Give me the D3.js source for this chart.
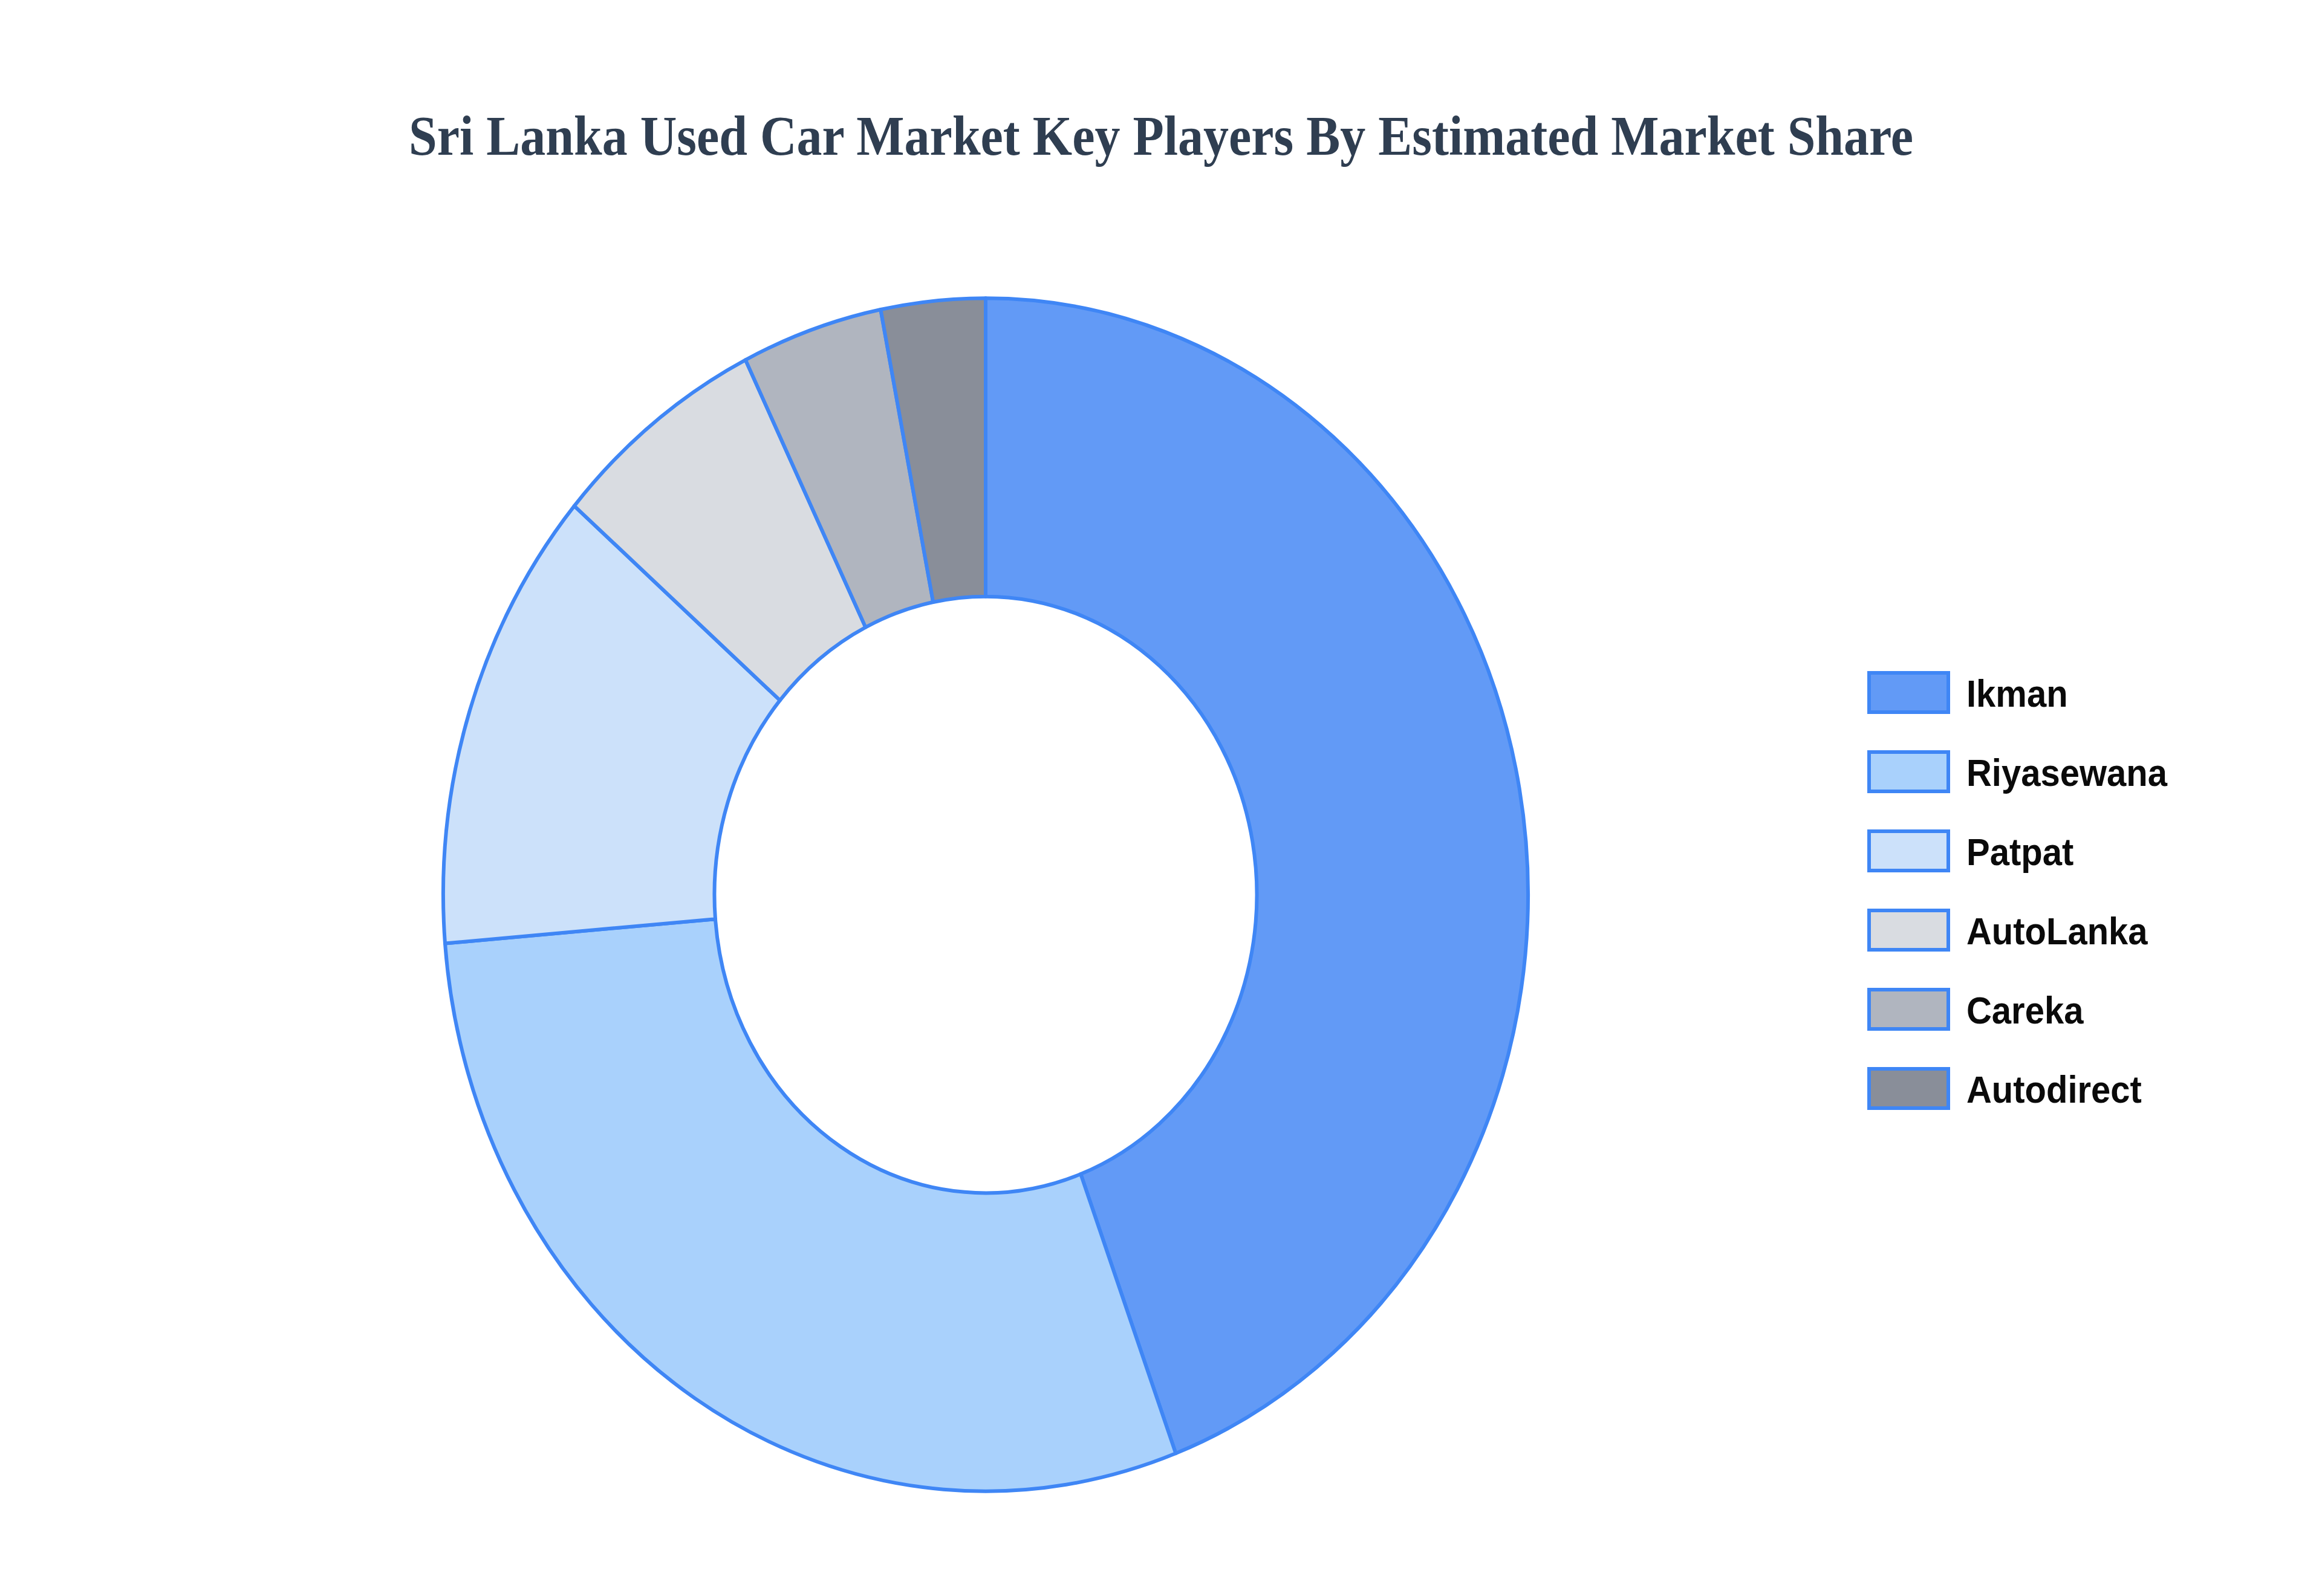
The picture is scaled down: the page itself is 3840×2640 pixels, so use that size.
<!DOCTYPE html>
<html>
<head>
<meta charset="utf-8">
<script src="https://cdn.jsdelivr.net/npm/d3@7"></script>
<style>
  body { margin: 0; background: #fff; }
</style>
</head>
<body>
<script>
	// 数据
	var players = ['Ikman', 'Riyasewana', 'Patpat', 'AutoLanka', 'Careka', 'Autodirect']
	var shares = [44.3, 29.4, 12.6, 6.4, 4.2, 3.1]
	var colors = ['#629af6', '#a9d1fc', '#cce1fa', '#d9dce1', '#b0b5bf', '#898e99']
	var titleText = 'Sri Lanka Used Car Market Key Players By Estimated Market Share'

	var width = 3840, height = 2640;
	var strokeColor = '#3f86f5';
	var stretch = 1.1; // 原图纵向拉伸

	var svg = d3.select('body').append('svg')
		.attr('width', width)
		.attr('height', height)

	// 标题
	svg.append('text')
		.attr('transform', `translate(${width / 2},256) scale(1,${stretch})`)
		.attr('text-anchor', 'middle')
		.style('font-family', '"Liberation Serif", "Times New Roman", serif')
		.style('font-weight', 'bold')
		.style('font-size', '84px')
		.style('fill', '#2f3e51')
		.text(titleText)

	// 环形图
	var cx = 1630, cy = 1480, rx = 897, ry = rx * stretch;
	var data = players.map((p, i) => ({ name: p, value: shares[i], color: colors[i] }))

	var pie = d3.pie().sort(null).value(d => d.value)
	var arc = d3.arc().innerRadius(rx * 0.5).outerRadius(rx)

	var g = svg.append('g')
		.attr('transform', `translate(${cx},${cy}) scale(1,${ry / rx})`)

	g.selectAll('path')
		.data(pie(data))
		.enter()
		.append('path')
		.attr('d', arc)
		.attr('fill', d => d.data.color)
		.attr('stroke', strokeColor)
		.attr('stroke-width', 6)
		.attr('stroke-linejoin', 'round')
		.attr('vector-effect', 'non-scaling-stroke')

	// 图例
	var legend = svg.selectAll('.legend')
		.data(data)
		.enter()
		.append('g')
		.attr('class', 'legend')
		.attr('transform', (d, i) => `translate(3091,${1113 + i * 131})`)

	legend.append('rect')
		.attr('width', 131)
		.attr('height', 65)
		.attr('fill', d => d.color)
		.attr('stroke', strokeColor)
		.attr('stroke-width', 6)

	legend.append('text')
		.attr('transform', `translate(161,33) scale(1,${stretch})`)
		.attr('dy', '0.36em')
		.style('font-family', '"Liberation Sans", Arial, sans-serif')
		.style('font-weight', 'bold')
		.style('font-size', '58px')
		.style('fill', '#0a0a0a')
		.text(d => d.name)
</script>
</body>
</html>
